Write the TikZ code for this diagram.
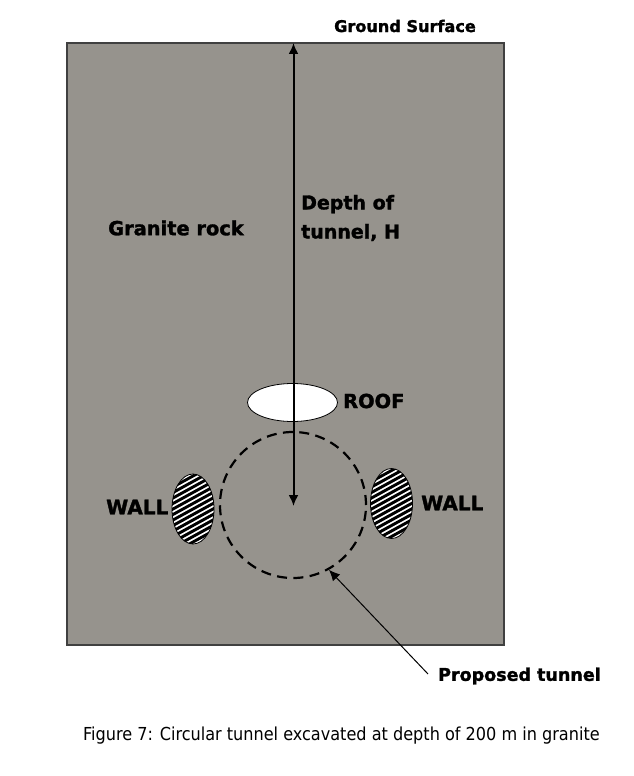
\documentclass[tikz,border=0pt]{standalone}
\usepackage{fontspec}
\setmainfont[BoldFeatures={FakeBold=1.6}]{DejaVu Sans}
\newfontfamily\capfont{DejaVu Sans Condensed}
\usetikzlibrary{shapes.geometric,arrows.meta}
\definecolor{rock}{HTML}{96938D}
\tikzset{
  x=1pt,y=-1pt,
  lbl/.style={font=\bfseries\fontsize{19.4}{29}\selectfont,text=black,inner sep=0pt,align=left},
  opening/.style={ellipse,draw=black,line width=0.8pt,inner sep=0pt,fill=white},
  hatched/.style={opening,path picture={
    \foreach \k in {-16,...,16}{
      \draw[black,line width=2.9pt] ([xshift=-40pt,yshift={\k*5.5pt-22pt}]path picture bounding box.center) -- ++(80pt,44pt);
    }}},
}
\begin{document}
\begin{tikzpicture}
\useasboundingbox (0,0) rectangle (634,776);
\fill[white] (0,0) rectangle (634,776);
\node[draw={rgb,255:red,64;green,64;blue,64},line width=1.3pt,fill=rock,minimum width=437pt,minimum height=602pt,inner sep=0pt] (rockbody) at (285.5,344) {};
\coordinate (top) at (293.5,43);
\coordinate (bottom) at (293.5,506);
\node[opening,minimum width=90pt,minimum height=38pt] (roof) at (292.5,402.5) {};
\draw[black,line width=2pt,{Latex[length=11pt,width=10pt]}-{Latex[length=11pt,width=10pt]}] (top) -- (bottom);
\node[circle,draw=black,line width=2.2pt,dash pattern=on 10pt off 6.4pt,minimum size=146pt,inner sep=0pt] (tunnel) at (293,505) {};
\node[hatched,minimum width=42pt,minimum height=70pt] (wallL) at (193,509) {};
\node[hatched,minimum width=42pt,minimum height=70pt] (wallR) at (391.5,503.5) {};
\node[lbl,anchor=west] (ground) at (334,26) {\fontsize{16.1}{20}\selectfont Ground Surface};
\node[lbl,anchor=west] (granite) at (108,228) {Granite rock};
\node[lbl,anchor=west,font=\bfseries\fontsize{19}{29}\selectfont] (depth) at (301,218) {Depth of\\tunnel, H};
\node[lbl,anchor=west] (rooflbl) at (343,401) {ROOF};
\node[lbl,anchor=west] (walll) at (106,507) {\fontsize{20}{26}\selectfont WALL};
\node[lbl,anchor=west] (wallr) at (421,503) {\fontsize{20}{26}\selectfont WALL};
\node[lbl,anchor=west] (prop) at (438,676) {\fontsize{17.5}{22}\selectfont Proposed tunnel};
\coordinate (propend) at ([xshift=-10pt,yshift=2pt]prop.west);
\draw[black,line width=1pt,-{Latex[length=11pt,width=10pt]}] (propend) -- (tunnel.-61);
\node[anchor=west,inner sep=0pt,font=\capfont\fontsize{17.9}{20}\selectfont] (caption) at (83,736) {Figure 7: Circular tunnel excavated at depth of 200 m in granite};
\end{tikzpicture}
\end{document}
